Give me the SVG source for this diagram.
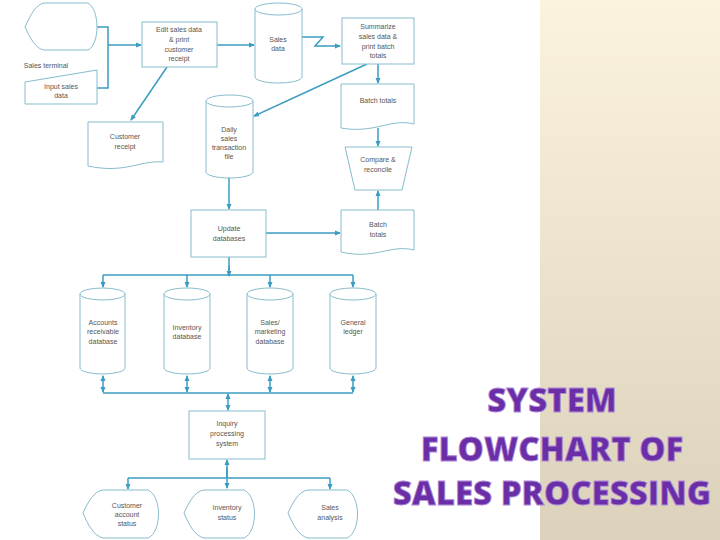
<svg xmlns="http://www.w3.org/2000/svg" width="720" height="540" viewBox="0 0 720 540">
<defs>
<linearGradient id="bg" x1="0" y1="0" x2="0" y2="1"><stop offset="0" stop-color="#fcf3dd"/><stop offset="1" stop-color="#dcd2bc"/></linearGradient>
<marker id="ah" markerWidth="6" markerHeight="6" refX="5" refY="3" orient="auto-start-reverse" markerUnits="userSpaceOnUse"><path d="M0,0.5 L6,3 L0,5.5 Z" fill="#3a9cc0"/></marker>
<style>
.s{fill:#fff;stroke:#86bccb;stroke-width:1}
.c{fill:none;stroke:#3a9cc0;stroke-width:1.5}
.t{font-family:"Liberation Sans",Arial,sans-serif;font-size:7px;fill:#555;text-anchor:middle}
.ti{font-family:"Open Sans",sans-serif;font-weight:800;font-size:33px;fill:#6a2ea6;stroke:#b08ad8;stroke-width:0.8;text-anchor:middle}
</style>
</defs>
<rect width="720" height="540" fill="#fff"/>
<rect x="540" y="0" width="180" height="540" fill="url(#bg)"/>

<g id="connectors">
<path class="c" d="M97,27 H108 V88 H97"/>
<path class="c" d="M108,45 H141" marker-end="url(#ah)"/>
<path class="c" d="M217,45 H254" marker-end="url(#ah)"/>
<path class="c" d="M302,37 H323 L315,46 H340" marker-end="url(#ah)"/>
<path class="c" d="M167,67 L131,120" stroke-width="1" marker-end="url(#ah)"/>
<path class="c" d="M367,64 L254,116" stroke-width="1" marker-end="url(#ah)"/>
<path class="c" d="M378,64 V83" marker-end="url(#ah)"/>
<path class="c" d="M378,128 V146" marker-end="url(#ah)"/>
<path class="c" d="M378,210 V191" marker-end="url(#ah)"/>
<path class="c" d="M229,178 V209" marker-end="url(#ah)"/>
<path class="c" d="M266,233 H340" marker-end="url(#ah)"/>
<path class="c" d="M229,257 V275"/>
<path class="c" d="M229,266 V276" marker-end="url(#ah)"/>
<path class="c" d="M103,275 H353"/>
<path class="c" d="M103,275 V287" marker-end="url(#ah)"/>
<path class="c" d="M187,275 V287" marker-end="url(#ah)"/>
<path class="c" d="M270,275 V287" marker-end="url(#ah)"/>
<path class="c" d="M353,275 V287" marker-end="url(#ah)"/>
<path class="c" d="M103,376 V392" marker-start="url(#ah)" marker-end="url(#ah)"/>
<path class="c" d="M187,376 V392" marker-start="url(#ah)" marker-end="url(#ah)"/>
<path class="c" d="M270,376 V392" marker-start="url(#ah)" marker-end="url(#ah)"/>
<path class="c" d="M353,376 V392" marker-start="url(#ah)" marker-end="url(#ah)"/>
<path class="c" d="M103,393 H353"/>
<path class="c" d="M228,394 V410" marker-start="url(#ah)" marker-end="url(#ah)"/>
<path class="c" d="M227,460 V477" marker-start="url(#ah)"/>
<path class="c" d="M227,468 V488" marker-end="url(#ah)"/>
<path class="c" d="M128,478 H330"/>
<path class="c" d="M128,478 V489" marker-end="url(#ah)"/>
<path class="c" d="M330,478 V489" marker-end="url(#ah)"/>
</g>

<g id="sales-terminal"><path class="s" d="M25,27 C30,16 36,4 44,3 H88 C100,10 100,44 88,50 H44 C36,49 30,38 25,27 Z"/><text class="t" x="46" y="68">Sales terminal</text></g>
<g id="input-sales-data"><path class="s" d="M25,82 L97,70 V104 H25 Z"/><text class="t" x="61" y="89">Input sales</text><text class="t" x="61" y="98">data</text></g>
<g id="edit"><rect class="s" x="142" y="22" width="75" height="45"/><text class="t" x="179" y="32">Edit sales data</text><text class="t" x="179" y="42">&amp; print</text><text class="t" x="179" y="52">customer</text><text class="t" x="179" y="61">receipt</text></g>
<g id="sales-data"><path class="s" d="M255,9 A23.5,6 0 0 1 302,9 V77 A23.5,6 0 0 1 255,77 Z"/><path class="s" d="M255,9 A23.5,6 0 0 0 302,9" fill="none"/><text class="t" x="278" y="42">Sales</text><text class="t" x="278" y="51">data</text></g>
<g id="summarize"><rect class="s" x="342" y="18" width="72" height="46"/><text class="t" x="378" y="29">Summarize</text><text class="t" x="378" y="39">sales data &amp;</text><text class="t" x="378" y="49">print batch</text><text class="t" x="378" y="58">totals</text></g>
<g id="customer-receipt"><path class="s" d="M88,122 H163 V162 C140,160 125,174 88,166 Z"/><text class="t" x="125" y="139">Customer</text><text class="t" x="125" y="149">receipt</text></g>
<g id="daily-file"><path class="s" d="M206,101 A23.5,6 0 0 1 253,101 V172 A23.5,6 0 0 1 206,172 Z"/><path class="s" d="M206,101 A23.5,6 0 0 0 253,101" fill="none"/><text class="t" x="229" y="132">Daily</text><text class="t" x="229" y="141">sales</text><text class="t" x="229" y="150">transaction</text><text class="t" x="229" y="159">file</text></g>
<g id="batch-totals-1"><path class="s" d="M341,84 H414 V124 C390,118 375,134 341,128 Z"/><text class="t" x="378" y="103">Batch totals</text></g>
<g id="compare"><path class="s" d="M345,147 H412 L402,190 H355 Z"/><text class="t" x="378" y="162">Compare &amp;</text><text class="t" x="378" y="172">reconcile</text></g>
<g id="update"><rect class="s" x="191" y="210" width="75" height="47"/><text class="t" x="229" y="231">Update</text><text class="t" x="229" y="241">databases</text></g>
<g id="batch-totals-2"><path class="s" d="M341,210 H414 V250 C390,244 375,260 341,252 Z"/><text class="t" x="378" y="227">Batch</text><text class="t" x="378" y="237">totals</text></g>
<g id="ar-db"><path class="s" d="M80,294 A22.5,6 0 0 1 125,294 V368 A22.5,6 0 0 1 80,368 Z"/><path class="s" d="M80,294 A22.5,6 0 0 0 125,294" fill="none"/><text class="t" x="103" y="325">Accounts</text><text class="t" x="103" y="334">receivable</text><text class="t" x="103" y="344">database</text></g>
<g id="inventory-db"><path class="s" d="M164,294 A23,6 0 0 1 210,294 V368 A23,6 0 0 1 164,368 Z"/><path class="s" d="M164,294 A23,6 0 0 0 210,294" fill="none"/><text class="t" x="187" y="330">Inventory</text><text class="t" x="187" y="339">database</text></g>
<g id="sales-db"><path class="s" d="M247,294 A23,6 0 0 1 293,294 V368 A23,6 0 0 1 247,368 Z"/><path class="s" d="M247,294 A23,6 0 0 0 293,294" fill="none"/><text class="t" x="270" y="325">Sales/</text><text class="t" x="270" y="334">marketing</text><text class="t" x="270" y="344">database</text></g>
<g id="general-ledger"><path class="s" d="M330,294 A23,6 0 0 1 376,294 V368 A23,6 0 0 1 330,368 Z"/><path class="s" d="M330,294 A23,6 0 0 0 376,294" fill="none"/><text class="t" x="353" y="325">General</text><text class="t" x="353" y="334">ledger</text></g>
<g id="inquiry"><rect class="s" x="189" y="411" width="76" height="48"/><text class="t" x="227" y="426">Inquiry</text><text class="t" x="227" y="436">processing</text><text class="t" x="227" y="446">system</text></g>
<g id="customer-account-status"><path class="s" d="M83,513 C88,502 94,491 103,490 H148 C162,496 162,532 148,538 H103 C94,536 88,525 83,513 Z"/><text class="t" x="127" y="508">Customer</text><text class="t" x="127" y="517">account</text><text class="t" x="127" y="526">status</text></g>
<g id="inventory-status"><path class="s" d="M184,513 C189,502 195,491 204,490 H244 C258,496 258,532 244,538 H204 C195,536 189,525 184,513 Z"/><text class="t" x="227" y="510">Inventory</text><text class="t" x="227" y="520">status</text></g>
<g id="sales-analysis"><path class="s" d="M288,513 C293,502 299,491 308,490 H347 C361,496 361,532 347,538 H308 C299,536 293,525 288,513 Z"/><text class="t" x="330" y="510">Sales</text><text class="t" x="330" y="520">analysis</text></g>

<g id="title"><text class="ti" x="552" y="412">SYSTEM</text><text class="ti" x="552" y="461">FLOWCHART OF</text><text class="ti" x="552" y="505">SALES PROCESSING</text></g>
</svg>
